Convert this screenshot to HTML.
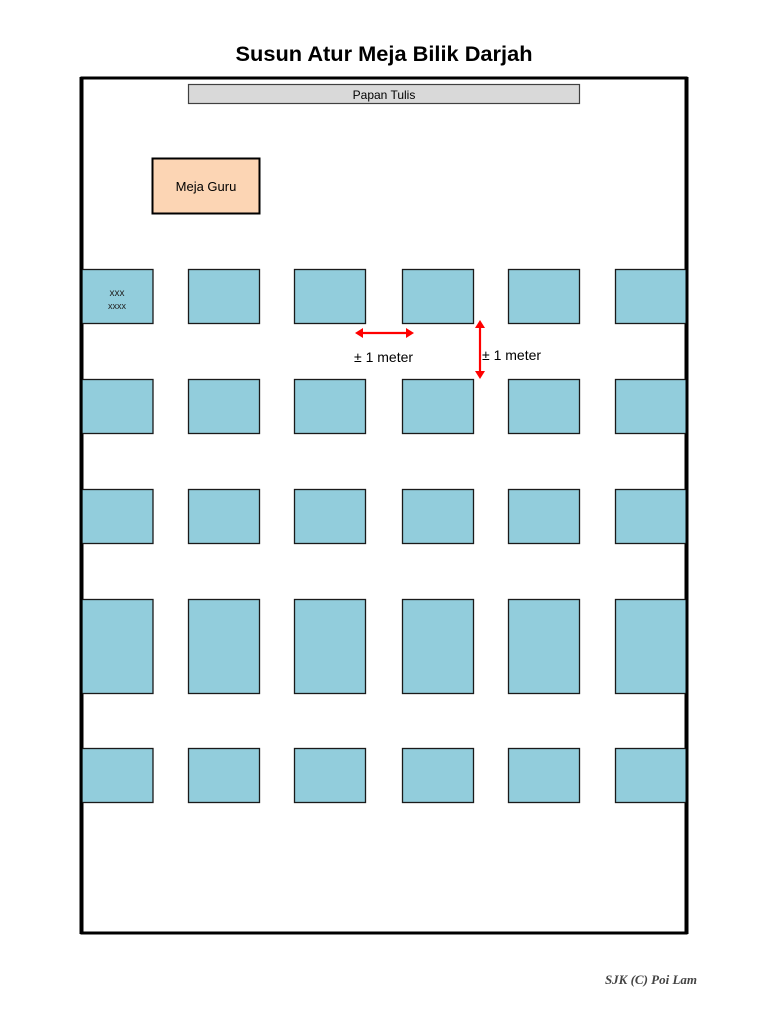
<!DOCTYPE html>
<html><head><meta charset="utf-8"><style>
html,body{margin:0;padding:0;background:#fff;}
svg{display:block;font-family:"Liberation Sans",sans-serif;}
</style></head><body>
<svg width="768" height="1024" viewBox="0 0 768 1024" xmlns="http://www.w3.org/2000/svg">
<rect width="768" height="1024" fill="#fff"/>
<text x="384" y="61" text-anchor="middle" font-size="21" font-weight="bold" fill="#000" textLength="297" lengthAdjust="spacingAndGlyphs">Susun Atur Meja Bilik Darjah</text>
<rect x="82" y="78" width="604" height="855" fill="#fff" stroke="#000" stroke-width="3"/>
<rect x="188.5" y="84.5" width="391" height="19" fill="#d9d9d9" stroke="#404040" stroke-width="1.2"/>
<text x="384" y="99" text-anchor="middle" font-size="12" fill="#000">Papan Tulis</text>
<rect x="152.5" y="158.5" width="107" height="55" fill="#fcd5b4" stroke="#000" stroke-width="2"/>
<text x="206" y="191" text-anchor="middle" font-size="13" fill="#000">Meja Guru</text>
<g fill="#92cddc" stroke="#1a1a1a" stroke-width="1.3">
<rect x="82" y="269.5" width="71" height="54"/><rect x="188.5" y="269.5" width="71" height="54"/><rect x="294.5" y="269.5" width="71" height="54"/><rect x="402.5" y="269.5" width="71" height="54"/><rect x="508.5" y="269.5" width="71" height="54"/><rect x="615.5" y="269.5" width="71" height="54"/>
<rect x="82" y="379.5" width="71" height="54"/><rect x="188.5" y="379.5" width="71" height="54"/><rect x="294.5" y="379.5" width="71" height="54"/><rect x="402.5" y="379.5" width="71" height="54"/><rect x="508.5" y="379.5" width="71" height="54"/><rect x="615.5" y="379.5" width="71" height="54"/>
<rect x="82" y="489.5" width="71" height="54"/><rect x="188.5" y="489.5" width="71" height="54"/><rect x="294.5" y="489.5" width="71" height="54"/><rect x="402.5" y="489.5" width="71" height="54"/><rect x="508.5" y="489.5" width="71" height="54"/><rect x="615.5" y="489.5" width="71" height="54"/>
<rect x="82" y="599.5" width="71" height="94"/><rect x="188.5" y="599.5" width="71" height="94"/><rect x="294.5" y="599.5" width="71" height="94"/><rect x="402.5" y="599.5" width="71" height="94"/><rect x="508.5" y="599.5" width="71" height="94"/><rect x="615.5" y="599.5" width="71" height="94"/>
<rect x="82" y="748.5" width="71" height="54"/><rect x="188.5" y="748.5" width="71" height="54"/><rect x="294.5" y="748.5" width="71" height="54"/><rect x="402.5" y="748.5" width="71" height="54"/><rect x="508.5" y="748.5" width="71" height="54"/><rect x="615.5" y="748.5" width="71" height="54"/>
</g>
<line x1="81" y1="77" x2="81" y2="934" stroke="#000" stroke-width="3"/>
<line x1="687" y1="77" x2="687" y2="934" stroke="#000" stroke-width="3"/>
<text x="117" y="296" text-anchor="middle" font-size="10" fill="#222">xxx</text>
<text x="117" y="309" text-anchor="middle" font-size="9" fill="#222">xxxx</text>
<g stroke="#ff0000" stroke-width="2.2" fill="none">
<line x1="360" y1="333" x2="410" y2="333"/>
<line x1="480" y1="325" x2="480" y2="374"/>
</g>
<g fill="#ff0000">
<polygon points="355,333 363,328 363,338"/>
<polygon points="414,333 406,328 406,338"/>
<polygon points="480,320 475,328 485,328"/>
<polygon points="480,379 475,371 485,371"/>
</g>
<text x="354" y="362" font-size="14" fill="#000">± 1 meter</text>
<text x="482" y="360" font-size="14" fill="#000">± 1 meter</text>
<text x="651" y="984" text-anchor="middle" font-family="Liberation Serif, serif" font-style="italic" font-weight="bold" font-size="13" fill="#444">SJK (C) Poi Lam</text>
</svg>
</body></html>
